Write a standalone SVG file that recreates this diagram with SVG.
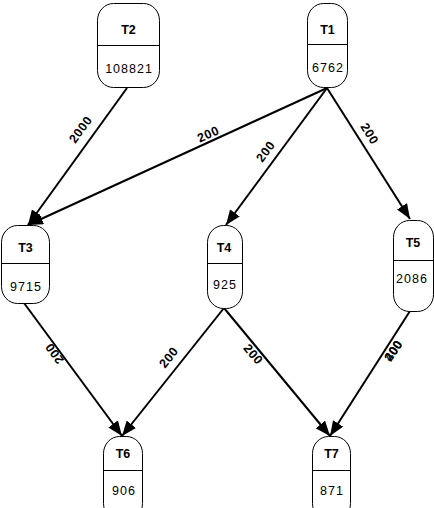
<svg xmlns="http://www.w3.org/2000/svg" width="434" height="508" viewBox="0 0 434 508">
<style>
.box{fill:#fff;stroke:#000;stroke-width:1}
.div{stroke:#000;stroke-width:1}
.t{font-family:"Liberation Sans",Arial,sans-serif;font-size:12.5px;font-weight:bold;text-anchor:middle;fill:#000}
.n{font-family:"Liberation Sans",Arial,sans-serif;font-size:12.5px;letter-spacing:1px;text-anchor:middle;fill:#000}
.e{stroke:#000;stroke-width:2;fill:none;marker-end:url(#ah)}
.l{font-family:"Liberation Sans",Arial,sans-serif;font-size:12.5px;font-weight:bold;letter-spacing:0.5px;text-anchor:middle;fill:#000}
</style>
<defs>
<marker id="ah" markerUnits="userSpaceOnUse" markerWidth="15" markerHeight="12" refX="15" refY="6" orient="auto">
<path d="M0,0 L15,6 L0,12 Z" fill="#000"/>
</marker>
</defs>
<rect width="434" height="508" fill="#fff"/>
<g id="connectors">
<line class="e" x1="127" y1="88" x2="28" y2="225"/>
<line class="e" x1="327" y1="88" x2="28" y2="225"/>
<line class="e" x1="327" y1="88" x2="226" y2="225"/>
<line class="e" x1="327" y1="88" x2="410" y2="219"/>
<line class="e" x1="24" y1="303" x2="122" y2="436"/>
<line class="e" x1="224" y1="308" x2="122" y2="436"/>
<line class="e" x1="224" y1="308" x2="330" y2="436"/>
<line class="e" x1="410" y1="311" x2="330" y2="436"/>
<text class="l" transform="translate(84,132) rotate(-54)">2000</text>
<text class="l" transform="translate(210,138) rotate(-24.6)">200</text>
<text class="l" transform="translate(269,154) rotate(-53.4)">200</text>
<text class="l" transform="translate(366,136) rotate(57.4)">200</text>
<text class="l" transform="translate(58,351) rotate(234)">200</text>
<text class="l" transform="translate(172,360) rotate(-51)">200</text>
<text class="l" transform="translate(250,357) rotate(50)">200</text>
<text class="l" transform="translate(397,353) rotate(-56.7)">400</text>
<text class="l" transform="translate(397,353) rotate(-56.7)">200</text>
</g>
<g id="T2">
<rect class="box" x="97.5" y="3.5" width="62" height="84" rx="16" ry="17"/>
<line class="div" x1="97.5" y1="45.5" x2="159.5" y2="45.5"/>
<text class="t" x="128.5" y="34">T2</text>
<text class="n" x="129" y="73">108821</text>
</g>
<g id="T1">
<rect class="box" x="307.5" y="3.5" width="40" height="84" rx="16" ry="17"/>
<line class="div" x1="307.5" y1="44.5" x2="347.5" y2="44.5"/>
<text class="t" x="327.5" y="34">T1</text>
<text class="n" x="328" y="72">6762</text>
</g>
<g id="T3">
<rect class="box" x="1.5" y="225.5" width="48" height="78" rx="16" ry="17"/>
<line class="div" x1="1.5" y1="263.5" x2="49.5" y2="263.5"/>
<text class="t" x="25.5" y="252">T3</text>
<text class="n" x="26" y="291">9715</text>
</g>
<g id="T4">
<rect class="box" x="207.5" y="225.5" width="35" height="83" rx="16" ry="17"/>
<line class="div" x1="207.5" y1="263.5" x2="242.5" y2="263.5"/>
<text class="t" x="224" y="252">T4</text>
<text class="n" x="225" y="289">925</text>
</g>
<g id="T5">
<rect class="box" x="393.5" y="220.5" width="40" height="91" rx="16" ry="17"/>
<line class="div" x1="393.5" y1="260.5" x2="433.5" y2="260.5"/>
<text class="t" x="413" y="247">T5</text>
<text class="n" x="412" y="283">2086</text>
</g>
<g id="T6">
<rect class="box" x="103.5" y="436.5" width="39" height="84" rx="16" ry="17"/>
<line class="div" x1="103.5" y1="470.5" x2="142.5" y2="470.5"/>
<text class="t" x="123" y="458">T6</text>
<text class="n" x="124" y="495">906</text>
</g>
<g id="T7">
<rect class="box" x="312.5" y="436.5" width="38" height="84" rx="16" ry="17"/>
<line class="div" x1="312.5" y1="470.5" x2="350.5" y2="470.5"/>
<text class="t" x="331.5" y="458">T7</text>
<text class="n" x="332" y="495">871</text>
</g>
</svg>
